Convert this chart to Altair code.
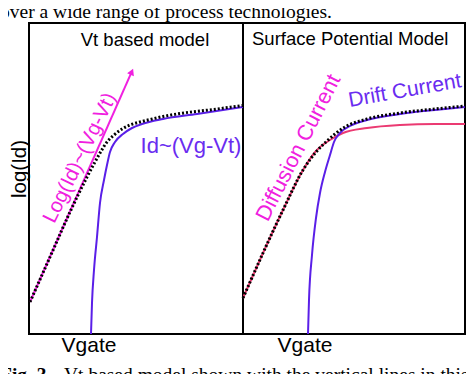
import altair as alt
import pandas as pd

# Figure units: x = distance from the figure's left edge, y = height above its bottom edge
# ---- "Vt based model" panel ----
vt_ideal_x = [30, 50, 70, 87, 95, 100, 107, 114, 122, 130, 140, 150, 163, 180, 213, 243]
vt_ideal_y = [80, 125, 170, 205, 220, 229, 240, 247, 253, 257, 260, 262.5, 265.5, 268.5, 272.5, 276.5]
vt_model_x = [91, 92, 94, 97, 100, 104, 107, 110, 115, 123, 132, 142, 163, 197, 243]
vt_model_y = [48, 79, 112, 145, 179, 202, 217, 230, 240, 248, 254, 258, 263, 268, 275]
vt_arrow_x = [30, 131.8]
vt_arrow_y = [80, 310.3]
# ---- "Surface Potential Model" panel ----
sp_ideal_x = [243, 263, 283, 303, 316, 327, 335, 345, 367, 400, 435, 465]
sp_ideal_y = [84, 129, 172, 212, 230, 241, 248, 255, 263, 269, 273, 276]
sp_diff_x = [243, 263, 283, 303, 316, 330, 343, 367, 400, 435, 465]
sp_diff_y = [84, 129, 172, 212, 231, 242, 249, 254, 257, 258, 258]
sp_drift_x = [308, 309, 312, 316, 320, 325, 330, 334, 340, 350, 367, 400, 435, 465]
sp_drift_y = [48, 82, 127, 164, 189, 210, 227, 240, 249, 256, 262, 268, 272, 275]
# ---- panel frames ----
panel_x0 = [29, 243]
panel_x1 = [243, 465]
panel_y0 = [48, 48]
panel_y1 = [359, 359]

XS = alt.Scale(domain=[8, 466], nice=False, zero=False)
YS = alt.Scale(domain=[8, 374], nice=False, zero=False)
X = alt.X("x:Q", scale=XS, axis=None)
Y = alt.Y("y:Q", scale=YS, axis=None)

MAGENTA = "#f020e0"
PINK = "#eb3a72"
BLUE = "#5a1fe8"
BLUE_TXT = "#6a2cf0"
SANS = "Liberation Sans"
SERIF = "Liberation Serif"


def curve(xs, ys, **mark):
    df = pd.DataFrame({"x": xs, "y": ys, "i": list(range(len(xs)))})
    return alt.Chart(df).mark_line(**mark).encode(x=X, y=Y, order="i:Q")


def label(text, x, y, **mark):
    df = pd.DataFrame({"x": [x], "y": [y], "t": [text]})
    return alt.Chart(df).mark_text(**mark).encode(x=X, y=Y, text="t:N")


frames = alt.Chart(pd.DataFrame({"x": panel_x0, "x2": panel_x1, "y": panel_y0, "y2": panel_y1})).mark_rect(
    stroke="black", strokeWidth=2, fillOpacity=0
).encode(x=X, x2="x2:Q", y=Y, y2="y2:Q")

arrow_line = curve(vt_arrow_x, vt_arrow_y, color=MAGENTA, strokeWidth=2)
arrow_head = alt.Chart(pd.DataFrame({"x": [vt_arrow_x[-1]], "y": [vt_arrow_y[-1]]})).mark_point(
    shape="triangle-up", filled=True, color=MAGENTA, opacity=1, size=55, angle=24
).encode(x=X, y=Y)

vt_model = curve(vt_model_x, vt_model_y, color=BLUE, strokeWidth=2, interpolate="monotone")
vt_ideal = curve(vt_ideal_x, vt_ideal_y, color="black", strokeWidth=3, strokeDash=[2, 2], interpolate="monotone")

sp_diff = curve(sp_diff_x, sp_diff_y, color=PINK, strokeWidth=2, interpolate="monotone")
sp_drift = curve(sp_drift_x, sp_drift_y, color=BLUE, strokeWidth=2, interpolate="monotone")
sp_ideal = curve(sp_ideal_x, sp_ideal_y, color="black", strokeWidth=3, strokeDash=[2, 2], interpolate="monotone")

texts = [
    label("over a wide range of process technologies.", 0, 364, font=SERIF, fontSize=19.5,
          align="left", baseline="alphabetic", color="black"),
    label("Vt based model", 145, 336, font=SANS, fontSize=18.5, align="center", baseline="alphabetic", color="black"),
    label("Surface Potential Model", 252, 337, font=SANS, fontSize=18.5, align="left", baseline="alphabetic",
          color="black"),
    label("Log(Id)~(Vg-Vt)", 80, 224, font=SANS, fontSize=20.5, align="center", baseline="middle",
          color=MAGENTA, angle=296),
    label("Id~(Vg-Vt)", 191, 229, font=SANS, fontSize=22, align="center", baseline="alphabetic", color=BLUE_TXT),
    label("Diffusion Current", 299, 234, font=SANS, fontSize=21.5, align="center", baseline="middle",
          color=MAGENTA, angle=297),
    label("Drift Current", 406, 285, font=SANS, fontSize=21, align="center", baseline="alphabetic",
          color=BLUE_TXT, angle=350),
    label("log(Id)", 25.5, 213, font=SANS, fontSize=20.5, align="center", baseline="alphabetic", color="black",
          angle=270),
    label("Vgate", 89, 30, font=SANS, fontSize=21, align="center", baseline="alphabetic", color="black"),
    label("Vgate", 305, 30, font=SANS, fontSize=21, align="center", baseline="alphabetic", color="black"),
    label("Fig. 3.", 0, 1, font=SERIF, fontSize=19.5, fontWeight="bold", align="left", baseline="alphabetic",
          color="black"),
    label("Vt based model shown with the vertical lines in this text", 64, 1, font=SERIF, fontSize=19.5,
          align="left", baseline="alphabetic", color="black"),
]

chart = alt.layer(
    frames, arrow_line, arrow_head, vt_model, vt_ideal, sp_diff, sp_drift, sp_ideal, *texts
).properties(
    width=458, height=366, autosize=alt.AutoSizeParams(type="none"), padding=0
).configure_view(stroke=None)

chart.save("out.html", embed_options={"renderer": "svg", "actions": False})
